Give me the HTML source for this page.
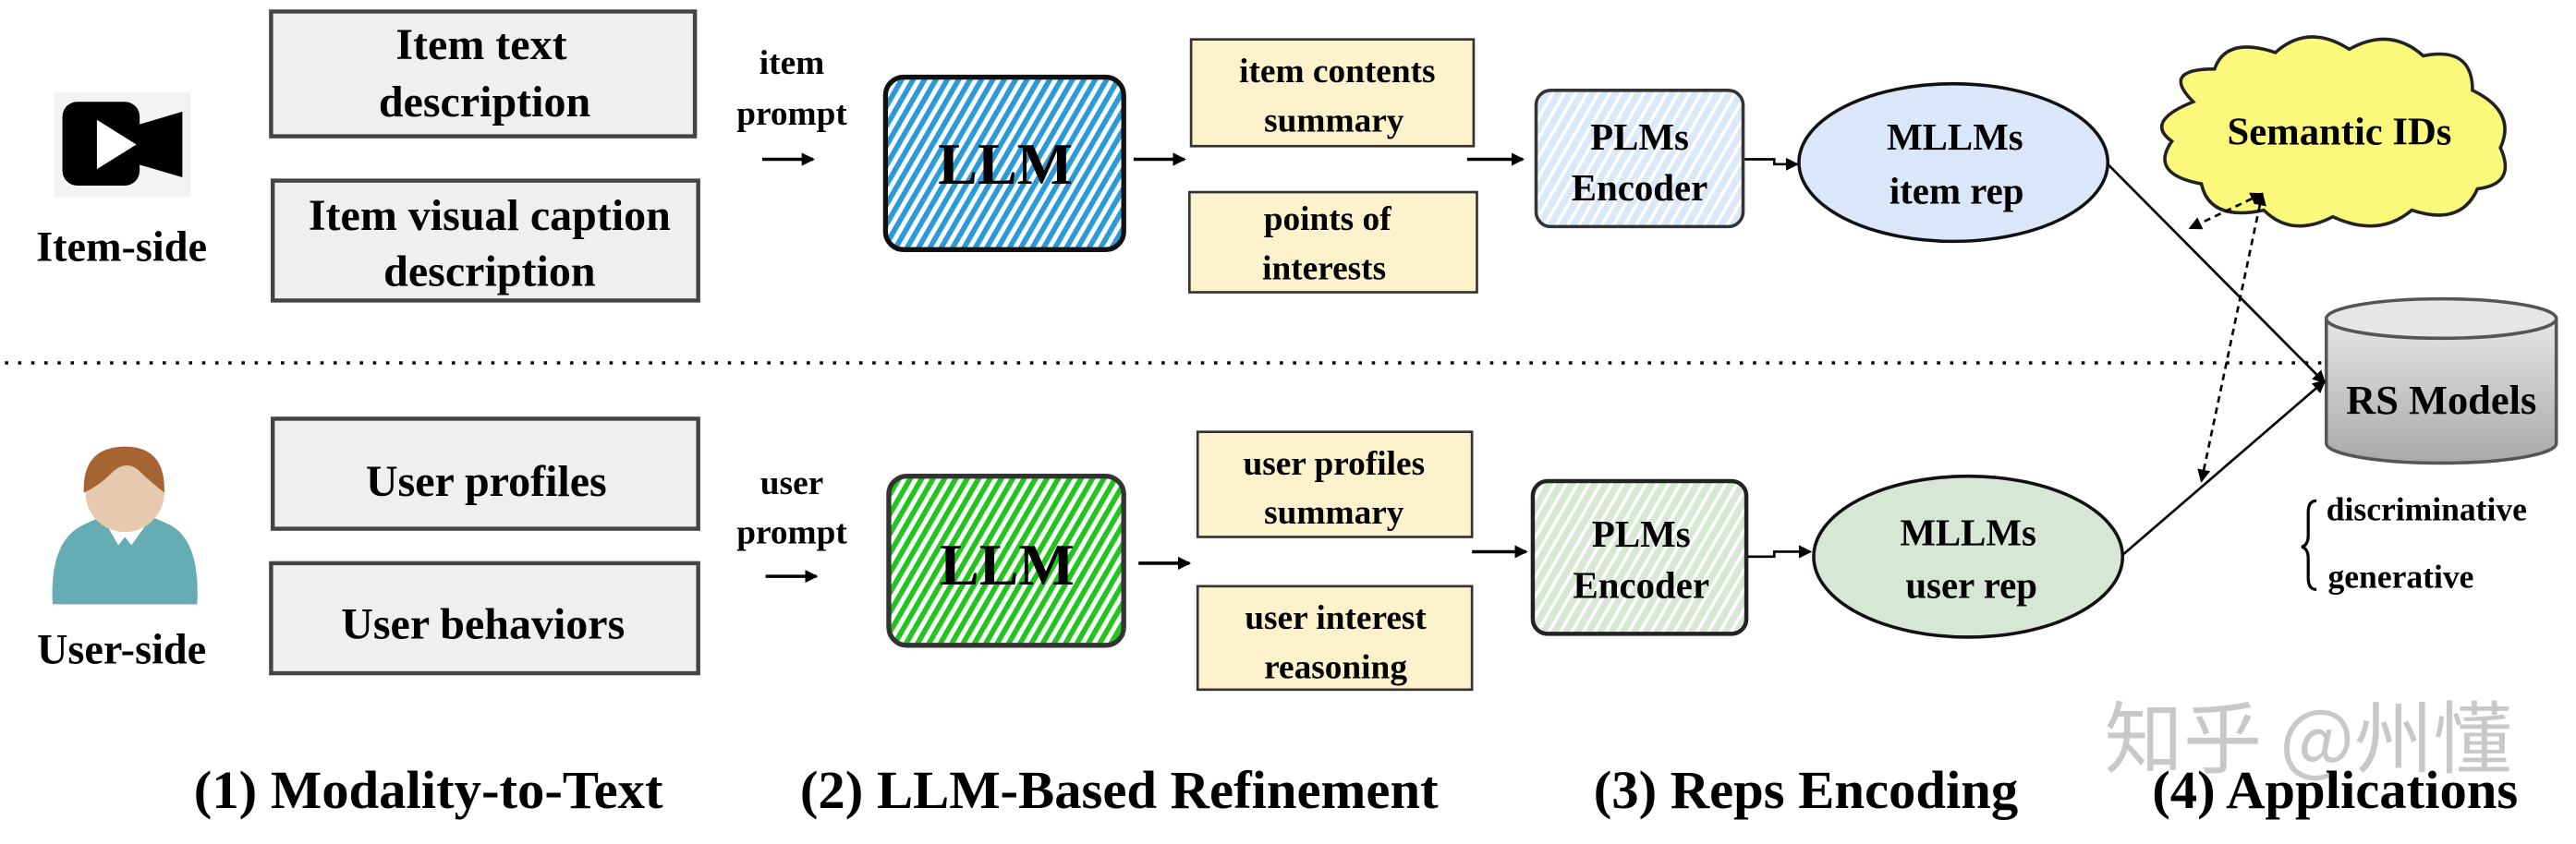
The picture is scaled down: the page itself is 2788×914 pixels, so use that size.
<!DOCTYPE html>
<html><head><meta charset="utf-8"><style>
html,body{margin:0;padding:0;background:#fff;}
svg{display:block;}
text{font-family:"Liberation Serif","Noto Serif CJK SC",serif;font-weight:bold;fill:#000;}
</style></head><body>
<svg width="2788" height="914" viewBox="0 0 1568 514" preserveAspectRatio="none" xmlns="http://www.w3.org/2000/svg">
<defs>
<pattern id="hb" width="6" height="6" patternUnits="userSpaceOnUse" patternTransform="rotate(30)">
<rect width="6" height="6" fill="#fff"/><rect width="3.2" height="6" fill="#2a9ad8"/></pattern>
<pattern id="hg" width="6" height="6" patternUnits="userSpaceOnUse" patternTransform="rotate(30)">
<rect width="6" height="6" fill="#fff"/><rect width="3.2" height="6" fill="#22c41e"/></pattern>
<pattern id="hlb" width="6" height="6" patternUnits="userSpaceOnUse" patternTransform="rotate(30)">
<rect width="6" height="6" fill="#dbe8f8"/><rect width="2" height="6" fill="#fff"/></pattern>
<pattern id="hlg" width="6" height="6" patternUnits="userSpaceOnUse" patternTransform="rotate(30)">
<rect width="6" height="6" fill="#d7e8d4"/><rect width="2" height="6" fill="#fff"/></pattern>
<linearGradient id="cyl" x1="0" y1="0" x2="0" y2="1"><stop offset="0" stop-color="#e6e6e6"/><stop offset="1" stop-color="#a9a9a9"/></linearGradient>
<marker id="ar" markerWidth="8" markerHeight="8" refX="7" refY="4" orient="auto" markerUnits="userSpaceOnUse"><path d="M0,0 L8,4 L0,8 Z" fill="#000"/></marker>
<marker id="ar2" markerWidth="8" markerHeight="8" refX="7" refY="4" orient="auto-start-reverse" markerUnits="userSpaceOnUse"><path d="M0,0 L8,4 L0,8 Z" fill="#000"/></marker>
</defs>

<!-- camera icon -->
<rect x="33" y="56" width="83" height="64" fill="#f3f3f3"/>
<rect x="38" y="62" width="47" height="51" rx="9" fill="#000"/>
<path d="M84,76 L111,68 L111,108 L84,100 Z" fill="#000"/>
<path d="M59,73 L83,88 L59,103 Z" fill="#fff"/>
<text x="74" y="159" font-size="26" text-anchor="middle">Item-side</text>

<!-- user icon -->
<path d="M32,368 Q30,330 50,320 Q62,314 72,312 L82,312 Q92,314 104,320 Q122,330 120,368 Z" fill="#66adb3"/>
<path d="M64,318 L72,332 L76,327 L80,332 L90,318 L84,312 L70,312 Z" fill="#fff"/>
<circle cx="76" cy="300" r="24" fill="#e6c9ae"/>
<path d="M51,300 Q50,272 76,272 Q101,272 100,300 Q90,292 84,286 Q76,280 68,288 Q60,296 51,300 Z" fill="#a56432"/>
<text x="74" y="404" font-size="26" text-anchor="middle">User-side</text>

<!-- gray boxes -->
<g fill="#efefef" stroke="#444" stroke-width="2.5">
<rect x="165" y="7" width="258" height="76"/>
<rect x="166" y="110" width="259" height="73"/>
<rect x="166" y="255" width="259" height="67"/>
<rect x="165" y="343" width="260" height="67"/>
</g>
<g font-size="27" text-anchor="middle">
<text x="293" y="36">Item text</text>
<text x="295" y="71">description</text>
<text x="298" y="140">Item visual caption</text>
<text x="298" y="174">description</text>
<text x="296" y="302">User profiles</text>
<text x="294" y="389">User behaviors</text>
</g>

<!-- dotted separator -->
<line x1="3" y1="221" x2="1414" y2="221" stroke="#000" stroke-width="2" stroke-dasharray="2,6"/>

<!-- prompts -->
<g font-size="21" text-anchor="middle">
<text x="482" y="45">item</text><text x="482" y="76">prompt</text>
<text x="482" y="301">user</text><text x="482" y="331">prompt</text>
</g>
<line x1="464" y1="97" x2="495" y2="97" stroke="#000" stroke-width="2" marker-end="url(#ar)"/>
<line x1="466" y1="351" x2="497" y2="351" stroke="#000" stroke-width="2" marker-end="url(#ar)"/>

<!-- LLM boxes -->
<rect x="539" y="47" width="145" height="105" rx="11" fill="url(#hb)" stroke="#111" stroke-width="3"/>
<rect x="541" y="290" width="143" height="103" rx="11" fill="url(#hg)" stroke="#333" stroke-width="3"/>
<text x="612" y="112" font-size="36" text-anchor="middle">LLM</text>
<text x="613" y="356" font-size="36" text-anchor="middle">LLM</text>
<line x1="690" y1="97" x2="721" y2="97" stroke="#000" stroke-width="2" marker-end="url(#ar)"/>
<line x1="693" y1="343" x2="724" y2="343" stroke="#000" stroke-width="2" marker-end="url(#ar)"/>

<!-- yellow boxes -->
<g fill="#fdf2cc" stroke="#333" stroke-width="1.5">
<rect x="725" y="24" width="172" height="65"/>
<rect x="724" y="117" width="175" height="61"/>
<rect x="729" y="263" width="167" height="64"/>
<rect x="729" y="357" width="167" height="63"/>
</g>
<g font-size="21" text-anchor="middle">
<text x="814" y="50">item contents</text><text x="812" y="80">summary</text>
<text x="808" y="140">points of</text><text x="806" y="170">interests</text>
<text x="812" y="289">user profiles</text><text x="812" y="319">summary</text>
<text x="813" y="383">user interest</text><text x="813" y="413">reasoning</text>
</g>
<line x1="893" y1="97" x2="927" y2="97" stroke="#000" stroke-width="2" marker-end="url(#ar)"/>
<line x1="896" y1="336" x2="929" y2="336" stroke="#000" stroke-width="2" marker-end="url(#ar)"/>

<!-- PLMs encoders -->
<rect x="935" y="55" width="126" height="83" rx="9" fill="url(#hlb)" stroke="#333" stroke-width="2"/>
<rect x="933" y="293" width="130" height="93" rx="9" fill="url(#hlg)" stroke="#222" stroke-width="2.5"/>
<g font-size="23" text-anchor="middle">
<text x="998" y="91">PLMs</text><text x="998" y="122">Encoder</text>
<text x="999" y="333">PLMs</text><text x="999" y="364">Encoder</text>
</g>
<path d="M1062,97 L1080,97 L1080,100 L1094,100" fill="none" stroke="#000" stroke-width="1.5" marker-end="url(#ar)"/>
<path d="M1064,339 L1080,339 L1080,336 L1102,336" fill="none" stroke="#000" stroke-width="1.5" marker-end="url(#ar)"/>

<!-- ellipses -->
<ellipse cx="1189" cy="99" rx="94" ry="48" fill="#dae7fa" stroke="#111" stroke-width="2"/>
<ellipse cx="1198" cy="339" rx="94" ry="49" fill="#d6e8d5" stroke="#111" stroke-width="2"/>
<g font-size="23" text-anchor="middle">
<text x="1190" y="91">MLLMs</text><text x="1191" y="124">item rep</text>
<text x="1198" y="332">MLLMs</text><text x="1200" y="364">user rep</text>
</g>

<!-- cloud -->
<path d="M1335,62 Q1315,42 1348,42 Q1355,22 1385,32 Q1405,14 1430,30 Q1455,16 1475,34 Q1505,28 1505,55 Q1532,68 1522,90 Q1532,112 1508,115 Q1498,138 1468,128 Q1448,145 1420,132 Q1395,145 1378,128 Q1345,135 1340,112 Q1308,106 1322,86 Q1305,74 1335,62 Z" fill="#fbf97c" stroke="#222" stroke-width="2"/>
<text x="1424" y="88" font-size="24" text-anchor="middle">Semantic IDs</text>

<!-- cylinder -->
<path d="M1416,194 L1416,270 A70,12 0 0 0 1556,270 L1556,194 Z" fill="url(#cyl)" stroke="#555" stroke-width="2"/>
<ellipse cx="1486" cy="194" rx="70" ry="12" fill="#e6e6e6" stroke="#555" stroke-width="2"/>
<text x="1486" y="252" font-size="25" text-anchor="middle">RS Models</text>

<!-- connectors -->
<line x1="1283" y1="100" x2="1415" y2="233" stroke="#000" stroke-width="1.5" marker-end="url(#ar)"/>
<line x1="1292" y1="338" x2="1415" y2="232" stroke="#000" stroke-width="1.5" marker-end="url(#ar)"/>
<line x1="1377" y1="118" x2="1333" y2="139" stroke="#000" stroke-width="1.5" stroke-dasharray="4,3" marker-start="url(#ar2)" marker-end="url(#ar2)"/>
<line x1="1377" y1="118" x2="1340" y2="293" stroke="#000" stroke-width="1.5" stroke-dasharray="4,3" marker-start="url(#ar2)" marker-end="url(#ar2)"/>

<!-- brace -->
<path d="M1410,305 Q1405,305 1405,312 L1405,326 Q1405,332 1401,333 Q1405,334 1405,340 L1405,352 Q1405,359 1410,359" fill="none" stroke="#000" stroke-width="1.8"/>
<text x="1416" y="317" font-size="20">discriminative</text>
<text x="1417" y="358" font-size="20">generative</text>

<!-- watermark -->
<text x="1405" y="467" font-size="48" text-anchor="middle" style="fill:#c8c8c8;font-family:'Noto Sans CJK SC',sans-serif;font-weight:normal">知乎 @州懂</text>

<!-- bottom labels -->
<g font-size="33">
<text x="118" y="492">(1) Modality-to-Text</text>
<text x="487" y="492">(2) LLM-Based Refinement</text>
<text x="970" y="492">(3) Reps Encoding</text>
<text x="1310" y="492">(4) Applications</text>
</g>
</svg>
</body></html>
